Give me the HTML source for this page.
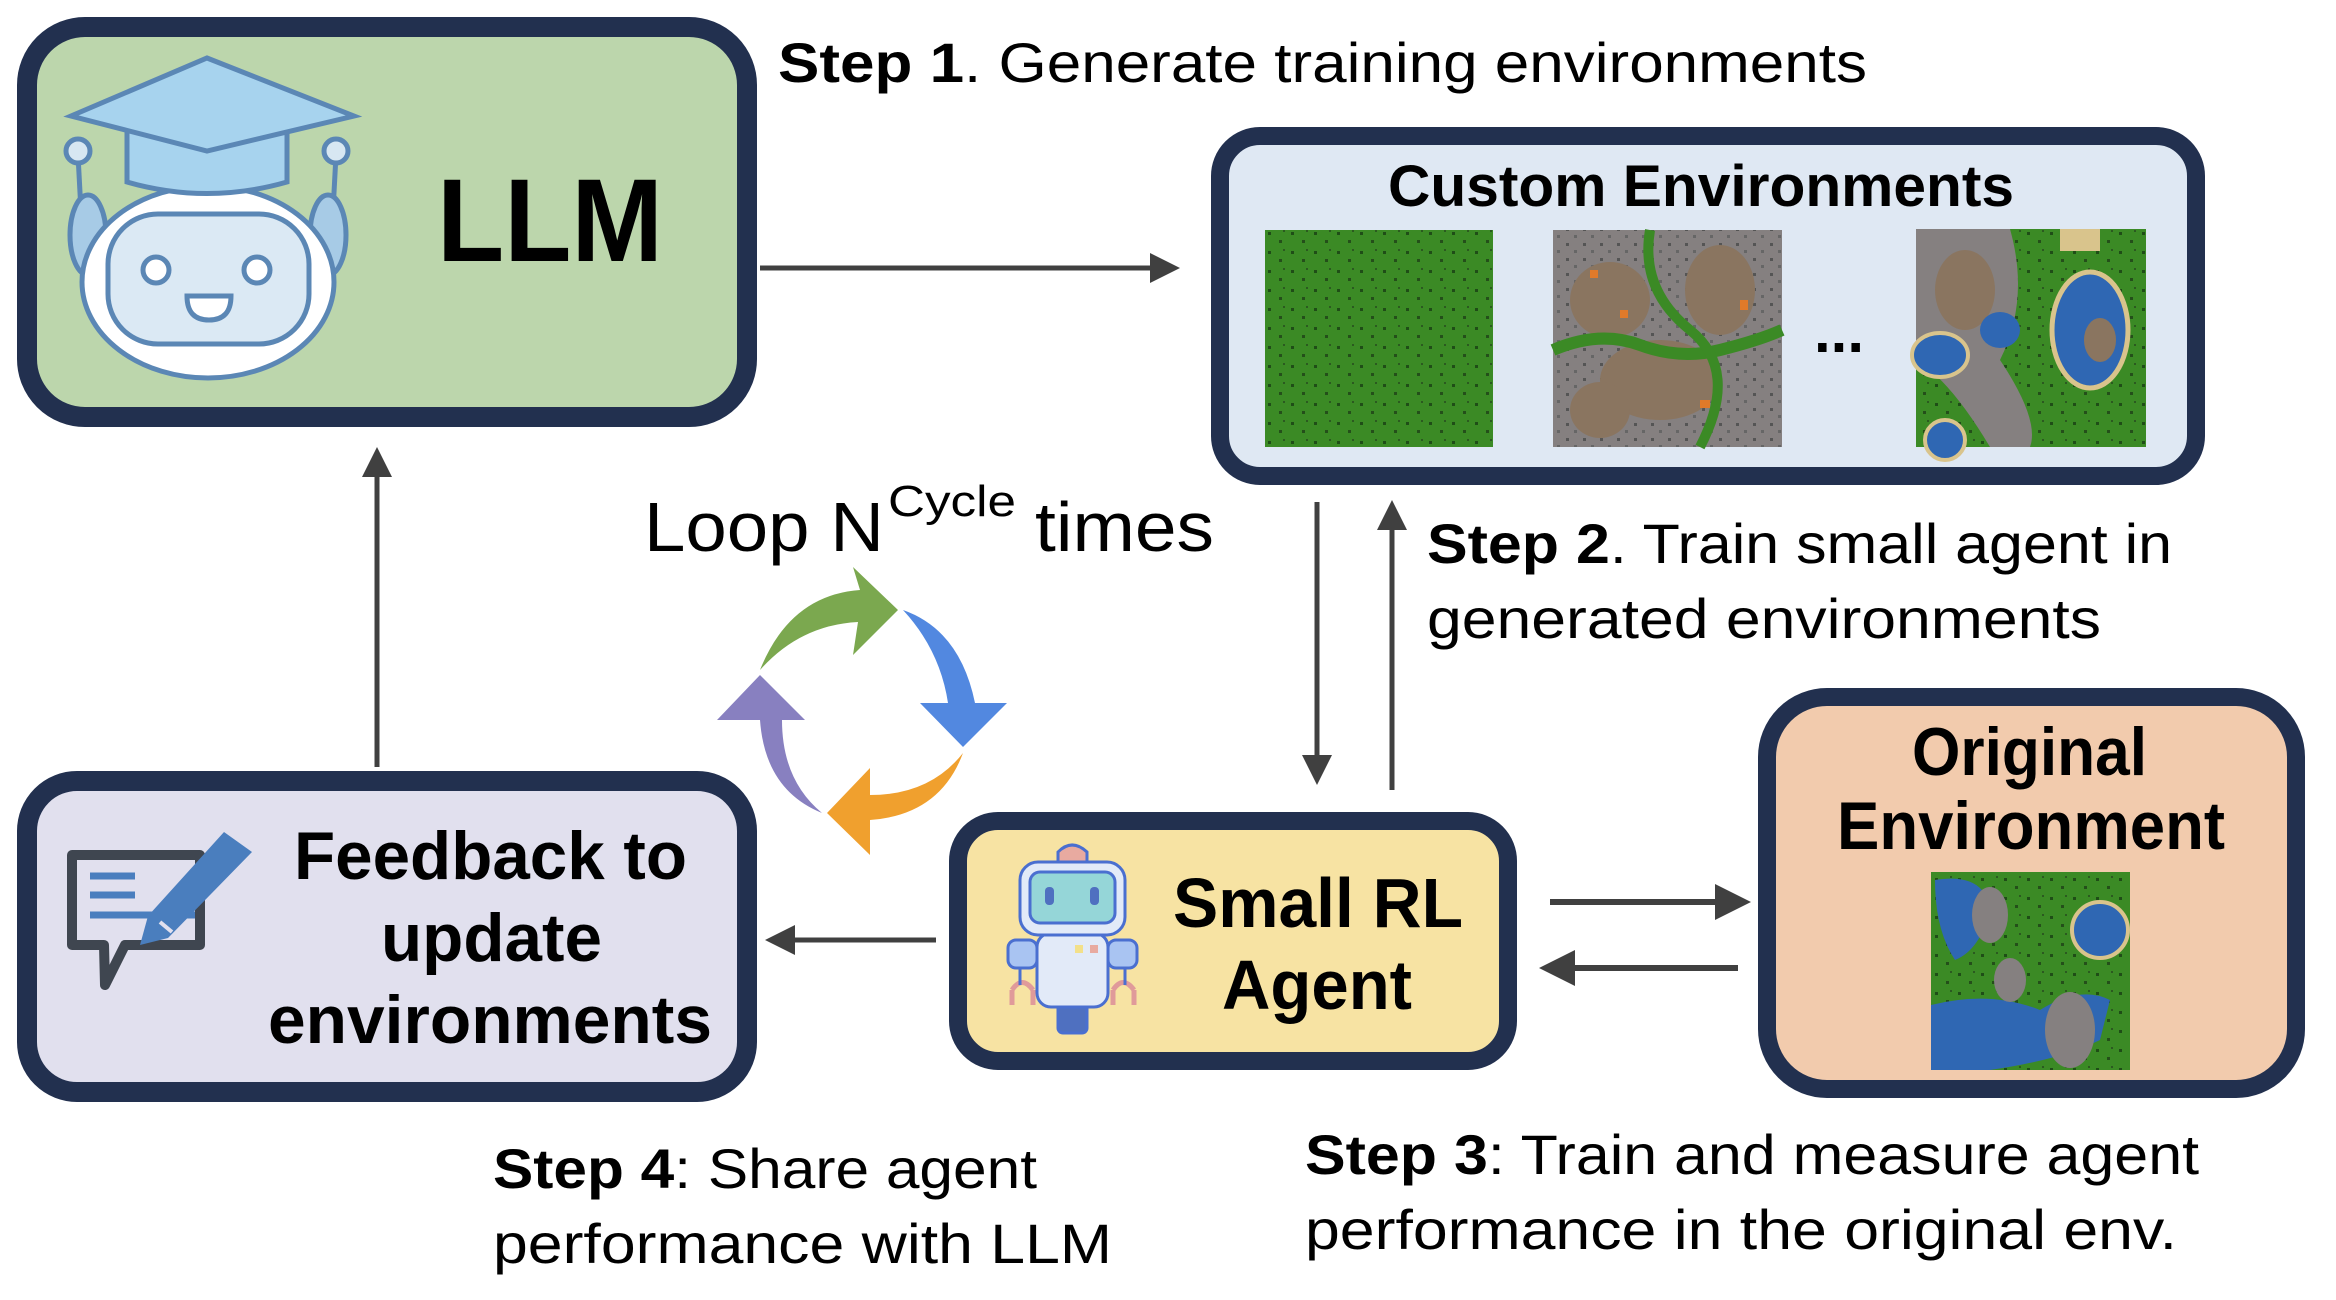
<!DOCTYPE html>
<html><head><meta charset="utf-8"><style>
html,body{margin:0;padding:0;background:#fff;}
svg{display:block;}
text{font-family:"Liberation Sans",sans-serif;}
</style></head><body>
<svg width="2336" height="1300" viewBox="0 0 2336 1300" xmlns="http://www.w3.org/2000/svg">
<defs>
<pattern id="dots" width="23" height="19" patternUnits="userSpaceOnUse">
<rect x="3" y="4" width="3" height="3" fill="#1f4d17"/><rect x="14" y="12" width="3" height="3" fill="#244f1a"/><rect x="18" y="2" width="2" height="2" fill="#2b5a20"/>
</pattern>
<pattern id="gdots" width="17" height="15" patternUnits="userSpaceOnUse">
<rect x="2" y="3" width="3" height="3" fill="#555"/><rect x="10" y="10" width="3" height="3" fill="#666"/>
</pattern>
<marker id="ah" markerWidth="6" markerHeight="6" refX="5" refY="3" orient="auto" markerUnits="strokeWidth"><path d="M0,0 L6,3 L0,6 z" fill="#404040"/></marker>
</defs>

<!-- LLM box -->
<rect x="27" y="27" width="720" height="390" rx="58" fill="#bcd6ac" stroke="#22304f" stroke-width="20"/>
<!-- robot with cap -->
<g stroke="#5b87b5" stroke-width="5">
<line x1="78" y1="155" x2="82" y2="230"/><line x1="336" y1="155" x2="332" y2="230"/>
<circle cx="78" cy="151" r="12" fill="#d7e7f2"/><circle cx="336" cy="151" r="12" fill="#d7e7f2"/>
<ellipse cx="88" cy="235" rx="18" ry="40" fill="#a7cbe6"/><ellipse cx="328" cy="235" rx="18" ry="40" fill="#a7cbe6"/>
<ellipse cx="208" cy="282" rx="126" ry="96" fill="#fff"/>
<rect x="108" y="214" width="201" height="130" rx="50" fill="#dbe9f4"/>
<circle cx="156" cy="270" r="13" fill="#fff"/><circle cx="257" cy="270" r="13" fill="#fff"/>
<path d="M187,296 L231,296 Q231,320 209,320 Q187,320 187,296 z" fill="#fff"/>
<path d="M127,124 L287,124 L287,182 Q207,205 127,182 z" fill="#a7d3ee"/>
<path d="M207,58 L354,116 L207,151 L71,116 z" fill="#a7d3ee"/>
</g>
<text x="437" y="261" font-size="118" font-weight="bold" textLength="226" lengthAdjust="spacingAndGlyphs">LLM</text>

<text x="778" y="82" font-size="56" textLength="1089" lengthAdjust="spacingAndGlyphs"><tspan font-weight="bold">Step 1</tspan>. Generate training environments</text>

<!-- arrow LLM -> custom -->
<line x1="760" y1="268" x2="1175" y2="268" stroke="#404040" stroke-width="5" marker-end="url(#ah)"/>

<!-- Custom box -->
<rect x="1220" y="136" width="976" height="340" rx="40" fill="#dfe8f3" stroke="#22304f" stroke-width="18"/>
<text x="1388" y="206" font-size="58" font-weight="bold" textLength="626" lengthAdjust="spacingAndGlyphs">Custom Environments</text>
<!-- map1 -->
<rect x="1265" y="230" width="228" height="217" fill="#3b8a25"/>
<rect x="1265" y="230" width="228" height="217" fill="url(#dots)"/>
<!-- map2 -->
<rect x="1553" y="230" width="229" height="217" fill="#858080"/>
<rect x="1553" y="230" width="229" height="217" fill="url(#gdots)"/>
<ellipse cx="1610" cy="300" rx="40" ry="38" fill="#8a7560"/>
<ellipse cx="1720" cy="290" rx="35" ry="45" fill="#8a7560"/>
<ellipse cx="1660" cy="380" rx="60" ry="40" fill="#8a7560"/>
<ellipse cx="1600" cy="410" rx="30" ry="28" fill="#8a7560"/>
<path d="M1553,350 Q1600,330 1640,345 T1720,350 T1782,330" stroke="#3b8a25" stroke-width="12" fill="none"/>
<path d="M1650,230 Q1640,290 1690,330 T1700,447" stroke="#3b8a25" stroke-width="10" fill="none"/>
<rect x="1620" y="310" width="8" height="8" fill="#e07a2a"/><rect x="1700" y="400" width="10" height="8" fill="#e07a2a"/><rect x="1590" y="270" width="8" height="8" fill="#e07a2a"/><rect x="1740" y="300" width="8" height="10" fill="#e07a2a"/>
<!-- dots -->
<text x="1814" y="352" font-size="60" font-weight="bold">...</text>
<!-- map3 -->
<rect x="1916" y="229" width="230" height="218" fill="#3b8a25"/>
<rect x="1916" y="229" width="230" height="218" fill="url(#dots)"/>
<path d="M1916,229 L2010,229 Q2030,300 2000,360 Q2040,420 2030,447 L1990,447 Q1950,380 1916,360 z" fill="#858080"/>
<ellipse cx="1965" cy="290" rx="30" ry="40" fill="#8a7560"/>
<ellipse cx="2090" cy="330" rx="38" ry="58" fill="#2f67b3" stroke="#d9c48c" stroke-width="5"/>
<ellipse cx="2100" cy="340" rx="16" ry="22" fill="#8a7560"/>
<ellipse cx="1940" cy="355" rx="28" ry="22" fill="#2f67b3" stroke="#d9c48c" stroke-width="4"/>
<ellipse cx="2000" cy="330" rx="20" ry="18" fill="#2f67b3"/>
<ellipse cx="1945" cy="440" rx="20" ry="20" fill="#2f67b3" stroke="#d9c48c" stroke-width="4"/>
<rect x="2060" y="229" width="40" height="22" fill="#d9c48c"/>

<!-- vertical arrows -->
<line x1="1317" y1="502" x2="1317" y2="780" stroke="#404040" stroke-width="5" marker-end="url(#ah)"/>
<line x1="1392" y1="790" x2="1392" y2="505" stroke="#404040" stroke-width="5" marker-end="url(#ah)"/>

<text x="1427" y="563" font-size="56" textLength="745" lengthAdjust="spacingAndGlyphs"><tspan font-weight="bold">Step 2</tspan>. Train small agent in</text>
<text x="1427" y="638" font-size="56" textLength="674" lengthAdjust="spacingAndGlyphs">generated environments</text>

<!-- Loop text -->
<text x="644" y="551" font-size="70" textLength="240" lengthAdjust="spacingAndGlyphs">Loop N</text>
<text x="888" y="516" font-size="44" textLength="128" lengthAdjust="spacingAndGlyphs">Cycle</text>
<text x="1035" y="551" font-size="70" textLength="179" lengthAdjust="spacingAndGlyphs">times</text>

<!-- cycle arrows -->
<path d="M760,670 Q790,595 860,590 L853,567 L898,610 L853,655 L858,622 Q800,625 760,670 z" fill="#7ba84f"/>
<path d="M903,610 Q960,630 975,703 L1007,703 L963,747 L920,703 L948,703 Q940,650 903,610 z" fill="#5288e0"/>
<path d="M963,753 Q940,815 870,820 L870,855 L827,813 L870,768 L870,795 Q930,795 963,753 z" fill="#f0a02e"/>
<path d="M822,813 Q765,790 760,720 L717,720 L760,675 L805,720 L782,720 Q782,780 822,813 z" fill="#8880c0"/>

<!-- arrow up to LLM -->
<line x1="377" y1="767" x2="377" y2="452" stroke="#404040" stroke-width="5" marker-end="url(#ah)"/>

<!-- Feedback box -->
<rect x="27" y="781" width="720" height="311" rx="50" fill="#e1e0ee" stroke="#22304f" stroke-width="20"/>
<g>
<path d="M72,855 L200,855 L200,945 L125,945 L105,985 L104,945 L72,945 z" fill="none" stroke="#3f4650" stroke-width="10" stroke-linejoin="round"/>
<line x1="90" y1="876" x2="135" y2="876" stroke="#4a7ebe" stroke-width="7"/>
<line x1="90" y1="895" x2="135" y2="895" stroke="#4a7ebe" stroke-width="7"/>
<line x1="90" y1="915" x2="195" y2="915" stroke="#4a7ebe" stroke-width="7"/>
<path d="M224,832 L252,852 L168,938 L140,945 L148,916 z" fill="#4a7ebe"/>
<path d="M160,922 L172,932" stroke="#e1e0ee" stroke-width="4"/>
</g>
<text x="294" y="879" font-size="68" font-weight="bold" textLength="393" lengthAdjust="spacingAndGlyphs">Feedback to</text>
<text x="381" y="961" font-size="68" font-weight="bold" textLength="221" lengthAdjust="spacingAndGlyphs">update</text>
<text x="268" y="1043" font-size="68" font-weight="bold" textLength="444" lengthAdjust="spacingAndGlyphs">environments</text>

<!-- arrow agent -> feedback -->
<line x1="936" y1="940" x2="770" y2="940" stroke="#404040" stroke-width="5" marker-end="url(#ah)"/>

<!-- Small RL box -->
<rect x="958" y="821" width="550" height="240" rx="40" fill="#f7e3a3" stroke="#22304f" stroke-width="18"/>
<g stroke="#4a6fd0" stroke-width="3">
<path d="M1058,862 L1058,852 Q1072,838 1087,852 L1087,862 z" fill="#e8aaa0"/>
<rect x="1058" y="1000" width="29" height="33" rx="5" fill="#4f70c0"/>
<path d="M1012,990 L1012,1005 M1033,990 L1033,1005 M1012,990 Q1022,975 1033,990" fill="none" stroke="#e09a9a" stroke-width="5"/>
<path d="M1113,990 L1113,1005 M1134,990 L1134,1005 M1113,990 Q1123,975 1134,990" fill="none" stroke="#e09a9a" stroke-width="5"/>
<line x1="1020" y1="968" x2="1020" y2="985"/><line x1="1125" y1="968" x2="1125" y2="985"/>
<rect x="1008" y="940" width="29" height="28" rx="8" fill="#a9c4f2"/>
<rect x="1108" y="940" width="29" height="28" rx="8" fill="#a9c4f2"/>
<rect x="1037" y="933" width="71" height="74" rx="14" fill="#e2eaf8"/>
<rect x="1020" y="862" width="105" height="73" rx="18" fill="#e2eaf8"/>
<rect x="1030" y="872" width="85" height="51" rx="10" fill="#95d6d8"/>
<rect x="1045" y="887" width="9" height="18" rx="4" fill="#4f70c0" stroke="none"/>
<rect x="1090" y="887" width="9" height="18" rx="4" fill="#4f70c0" stroke="none"/>
<rect x="1075" y="945" width="8" height="8" fill="#f3e08a" stroke="none"/>
<rect x="1090" y="945" width="8" height="8" fill="#e8aaa0" stroke="none"/>
</g>
<text x="1173" y="927" font-size="70" font-weight="bold" textLength="290" lengthAdjust="spacingAndGlyphs">Small RL</text>
<text x="1222" y="1009" font-size="70" font-weight="bold" textLength="190" lengthAdjust="spacingAndGlyphs">Agent</text>

<!-- agent <-> original arrows -->
<line x1="1550" y1="902" x2="1745" y2="902" stroke="#404040" stroke-width="6" marker-end="url(#ah)"/>
<line x1="1738" y1="968" x2="1545" y2="968" stroke="#404040" stroke-width="6" marker-end="url(#ah)"/>

<!-- Original box -->
<rect x="1767" y="697" width="529" height="392" rx="60" fill="#f2cbad" stroke="#22304f" stroke-width="18"/>
<text x="1912" y="775" font-size="68" font-weight="bold" textLength="235" lengthAdjust="spacingAndGlyphs">Original</text>
<text x="1837" y="849" font-size="68" font-weight="bold" textLength="388" lengthAdjust="spacingAndGlyphs">Environment</text>
<rect x="1931" y="872" width="199" height="198" fill="#3b8a25"/>
<rect x="1931" y="872" width="199" height="198" fill="url(#dots)"/>
<path d="M1935,880 Q1985,872 1990,910 Q1980,950 1955,960 Q1935,930 1935,880 z" fill="#2f67b3"/>
<ellipse cx="1990" cy="915" rx="18" ry="28" fill="#858080"/>
<ellipse cx="2100" cy="930" rx="28" ry="28" fill="#2f67b3" stroke="#d9c48c" stroke-width="4"/>
<path d="M1931,1005 Q1990,990 2040,1010 Q2080,985 2110,1000 L2100,1040 Q2060,1060 1990,1070 L1931,1070 z" fill="#2f67b3"/>
<ellipse cx="2070" cy="1030" rx="25" ry="38" fill="#858080"/>
<ellipse cx="2010" cy="980" rx="16" ry="22" fill="#858080"/>

<text x="1305" y="1174" font-size="56" textLength="894" lengthAdjust="spacingAndGlyphs"><tspan font-weight="bold">Step 3</tspan>: Train and measure agent</text>
<text x="1305" y="1249" font-size="56" textLength="872" lengthAdjust="spacingAndGlyphs">performance in the original env.</text>
<text x="493" y="1188" font-size="56" textLength="544" lengthAdjust="spacingAndGlyphs"><tspan font-weight="bold">Step 4</tspan>: Share agent</text>
<text x="493" y="1263" font-size="56" textLength="619" lengthAdjust="spacingAndGlyphs">performance with LLM</text>
</svg>
</body></html>
